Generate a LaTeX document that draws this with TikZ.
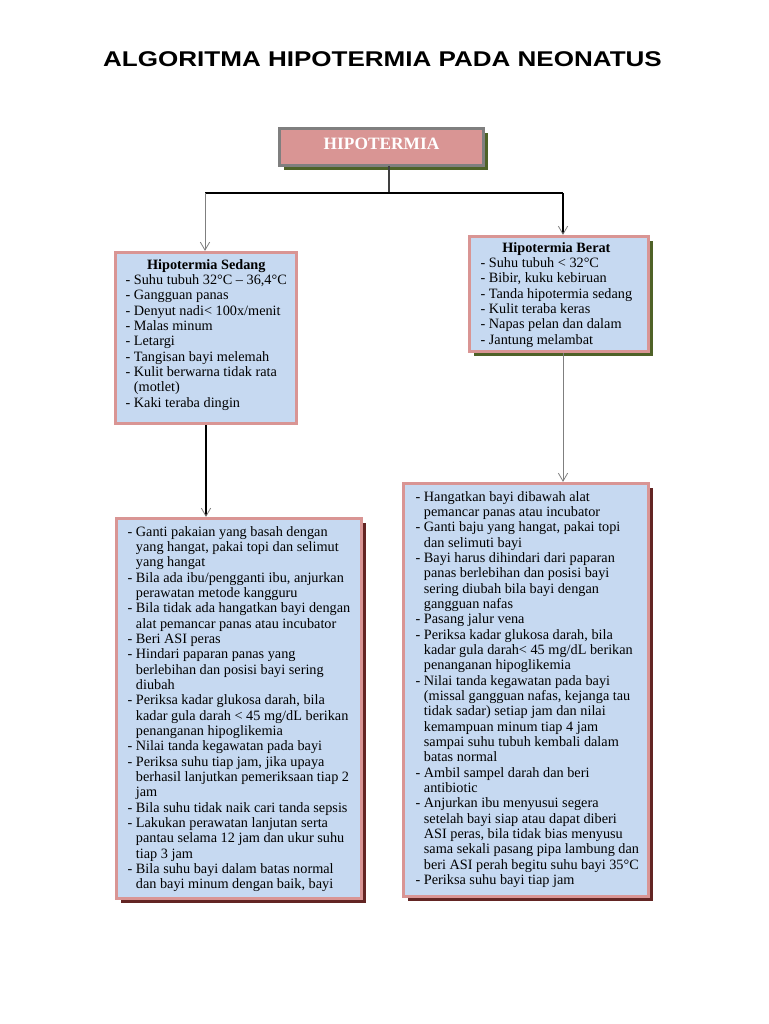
\documentclass[tikz,border=0pt]{standalone}
\usepackage{fontspec}
\usepackage{graphicx}
\setmainfont{Liberation Serif}
\newfontfamily\titlefont{Liberation Sans}
\usetikzlibrary{arrows.meta,shadows}
\definecolor{pinkc}{HTML}{D99594}
\definecolor{bluec}{HTML}{C6D9F1}
\definecolor{olivec}{HTML}{4F6228}
\definecolor{maroonc}{HTML}{632523}
\definecolor{grayb}{HTML}{7F7F7F}
\definecolor{connd}{HTML}{404040}
\newcommand\bodyfont{\fontsize{10.7}{11.5}\selectfont}
\begin{document}
\begin{tikzpicture}[x=0.75pt,y=-0.75pt,
  box/.style={draw=pinkc, fill=bluec, line width=2.4pt, anchor=north west, inner sep=0pt, outer sep=0pt},
  oliveshadow/.style={general shadow={fill=olivec, shadow xshift=3.2pt, shadow yshift=-3.2pt}},
  maroonshadow/.style={general shadow={fill=maroonc, shadow xshift=3.2pt, shadow yshift=-3.2pt}},
  listtext/.style={anchor=base west, inner sep=0pt, outer sep=0pt, font=\bodyfont, text=black},
  tip/.style={-{Straight Barb[length=6pt,width=7pt,line width=0.6pt,color=grayb]}},
]
\useasboundingbox (0,0) rectangle (768,1024);
\fill[white] (0,0) rectangle (768,1024);

% title
\node[anchor=base, inner sep=0pt] (title) at (382.5,67)
  {\titlefont\bfseries\fontsize{16}{19}\selectfont\scalebox{1.22}[1]{ALGORITMA HIPOTERMIA PADA NEONATUS}};

% top box
\node[draw=grayb, fill=pinkc, line width=2.3pt, oliveshadow, inner sep=0pt, outer sep=0pt,
  minimum width=204*0.75pt, minimum height=37*0.75pt, text height=9pt, text depth=5.6pt,
  font=\bfseries\fontsize{13}{15}\selectfont, text=white] (top) at (381.5,147) {HIPOTERMIA};

% level-1 boxes
\node[box, minimum width=181*0.75pt, minimum height=171*0.75pt] (lb1) at (115.5,252.5) {};
\node[box, oliveshadow, minimum width=179*0.75pt, minimum height=115*0.75pt] (rb1) at (469.5,236.5) {};

% level-2 boxes
\node[box, maroonshadow, minimum width=245*0.75pt, minimum height=380*0.75pt] (lb2) at (116.5,518.5) {};
\node[box, maroonshadow, minimum width=245*0.75pt, minimum height=413*0.75pt] (rb2) at (403.5,483.5) {};

% texts
\node[listtext] (lb1t) at (125.7,269) {\begin{tabular}[t]{@{}l@{\hspace{2.6pt}}l@{}}
\multicolumn{2}{c}{\bfseries Hipotermia Sedang}\\
- & Suhu tubuh 32°C – 36,4°C\\
- & Gangguan panas\\
- & Denyut nadi< 100x/menit\\
- & Malas minum\\
- & Letargi\\
- & Tangisan bayi melemah\\
- & Kulit berwarna tidak rata\\
  & (motlet)\\
- & Kaki teraba dingin
\end{tabular}};

\node[listtext] (rb1t) at (480.7,252) {\begin{tabular}[t]{@{}l@{\hspace{2.6pt}}l@{}}
\multicolumn{2}{c}{\bfseries Hipotermia Berat}\\
- & Suhu tubuh < 32°C\\
- & Bibir, kuku kebiruan\\
- & Tanda hipotermia sedang\\
- & Kulit teraba keras\\
- & Napas pelan dan dalam\\
- & Jantung melambat
\end{tabular}};

\node[listtext] (lb2t) at (127.7,536) {\begin{tabular}[t]{@{}l@{\hspace{2.6pt}}l@{}}
- & Ganti pakaian yang basah dengan\\
  & yang hangat, pakai topi dan selimut\\
  & yang hangat\\
- & Bila ada ibu/pengganti ibu, anjurkan\\
  & perawatan metode kangguru\\
- & Bila tidak ada hangatkan bayi dengan\\
  & alat pemancar panas atau incubator\\
- & Beri ASI peras\\
- & Hindari paparan panas yang\\
  & berlebihan dan posisi bayi sering\\
  & diubah\\
- & Periksa kadar glukosa darah, bila\\
  & kadar gula darah < 45 mg/dL berikan\\
  & penanganan hipoglikemia\\
- & Nilai tanda kegawatan pada bayi\\
- & Periksa suhu tiap jam, jika upaya\\
  & berhasil lanjutkan pemeriksaan tiap 2\\
  & jam\\
- & Bila suhu tidak naik cari tanda sepsis\\
- & Lakukan perawatan lanjutan serta\\
  & pantau selama 12 jam dan ukur suhu\\
  & tiap 3 jam\\
- & Bila suhu bayi dalam batas normal\\
  & dan bayi minum dengan baik, bayi
\end{tabular}};

\node[listtext] (rb2t) at (415.7,501) {\begin{tabular}[t]{@{}l@{\hspace{2.6pt}}l@{}}
- & Hangatkan bayi dibawah alat\\
  & pemancar panas atau incubator\\
- & Ganti baju yang hangat, pakai topi\\
  & dan selimuti bayi\\
- & Bayi harus dihindari dari paparan\\
  & panas berlebihan dan posisi bayi\\
  & sering diubah bila bayi dengan\\
  & gangguan nafas\\
- & Pasang jalur vena\\
- & Periksa kadar glukosa darah, bila\\
  & kadar gula darah< 45 mg/dL berikan\\
  & penanganan hipoglikemia\\
- & Nilai tanda kegawatan pada bayi\\
  & (missal gangguan nafas, kejanga tau\\
  & tidak sadar) setiap jam dan nilai\\
  & kemampuan minum tiap 4 jam\\
  & sampai suhu tubuh kembali dalam\\
  & batas normal\\
- & Ambil sampel darah dan beri\\
  & antibiotic\\
- & Anjurkan ibu menyusui segera\\
  & setelah bayi siap atau dapat diberi\\
  & ASI peras, bila tidak bias menyusu\\
  & sama sekali pasang pipa lambung dan\\
  & beri ASI perah begitu suhu bayi 35°C\\
- & Periksa suhu bayi tiap jam
\end{tabular}};

% connectors
\coordinate (jm) at (389,193);
\coordinate (jl) at (205,193);
\coordinate (jr) at (563,193);
\draw[connd, line width=1.3pt] (top.south -| jm) -- (jm);
\draw[black, line width=0.8pt] (jl) -- (jr);
\draw[grayb, line width=0.6pt, tip] (jl) -- ([yshift=1.2pt]lb1.north -| jl);
\draw[black, line width=0.8pt, tip] (jr) -- ([yshift=1.2pt]rb1.north -| jr);
\draw[black, line width=0.8pt, tip] ([yshift=-1.2pt]lb1.south) -- ([yshift=1.2pt]lb1.south |- lb2.north);
\draw[grayb, line width=0.6pt, tip] ([yshift=-1.2pt]rb1.south -| jr) -- ([yshift=1.2pt]rb2.north -| jr);
\end{tikzpicture}
\end{document}
